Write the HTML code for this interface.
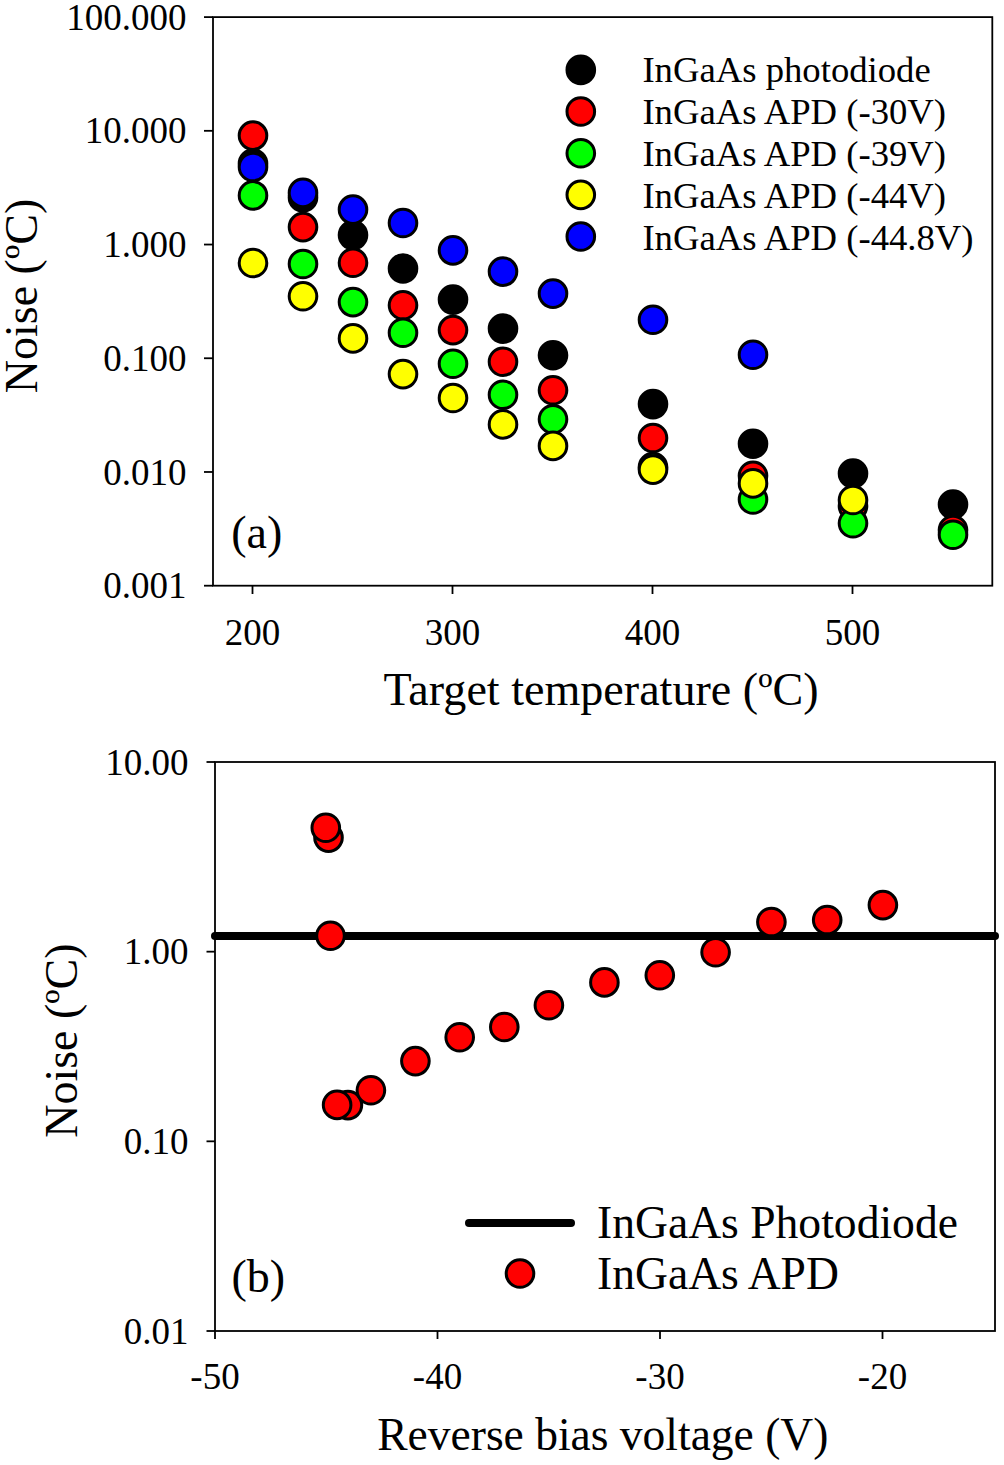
<!DOCTYPE html><html><head><meta charset="utf-8"><style>html,body{margin:0;padding:0;background:#fff;}svg{display:block}</style></head><body>
<svg width="1004" height="1465" viewBox="0 0 1004 1465" font-family="'Liberation Serif', serif">
<rect width="100%" height="100%" fill="#fff"/>
<rect x="213" y="17.1" width="779.3" height="568.6" fill="none" stroke="#000" stroke-width="1.8"/>
<line x1="204" y1="17.1" x2="213" y2="17.1" stroke="#000" stroke-width="1.8"/>
<text x="186.6" y="29.700000000000003" font-size="37" text-anchor="end">100.000</text>
<line x1="204" y1="130.82" x2="213" y2="130.82" stroke="#000" stroke-width="1.8"/>
<text x="186.6" y="143.42" font-size="37" text-anchor="end">10.000</text>
<line x1="204" y1="244.54" x2="213" y2="244.54" stroke="#000" stroke-width="1.8"/>
<text x="186.6" y="257.14" font-size="37" text-anchor="end">1.000</text>
<line x1="204" y1="358.26000000000005" x2="213" y2="358.26000000000005" stroke="#000" stroke-width="1.8"/>
<text x="186.6" y="370.86000000000007" font-size="37" text-anchor="end">0.100</text>
<line x1="204" y1="471.98" x2="213" y2="471.98" stroke="#000" stroke-width="1.8"/>
<text x="186.6" y="484.58000000000004" font-size="37" text-anchor="end">0.010</text>
<line x1="204" y1="585.7" x2="213" y2="585.7" stroke="#000" stroke-width="1.8"/>
<text x="186.6" y="598.3000000000001" font-size="37" text-anchor="end">0.001</text>
<line x1="252.5" y1="585.7" x2="252.5" y2="594" stroke="#000" stroke-width="1.8"/>
<text x="252.5" y="644.6" font-size="37" text-anchor="middle">200</text>
<line x1="452.5" y1="585.7" x2="452.5" y2="594" stroke="#000" stroke-width="1.8"/>
<text x="452.5" y="644.6" font-size="37" text-anchor="middle">300</text>
<line x1="652.5" y1="585.7" x2="652.5" y2="594" stroke="#000" stroke-width="1.8"/>
<text x="652.5" y="644.6" font-size="37" text-anchor="middle">400</text>
<line x1="852.5" y1="585.7" x2="852.5" y2="594" stroke="#000" stroke-width="1.8"/>
<text x="852.5" y="644.6" font-size="37" text-anchor="middle">500</text>
<text x="601" y="705" font-size="46.1" text-anchor="middle">Target temperature (ºC)</text>
<text transform="translate(36.9,296) rotate(-90)" font-size="46" text-anchor="middle">Noise (ºC)</text>
<text x="231.3" y="548" font-size="46">(a)</text>
<circle cx="253" cy="163.5" r="13.8" fill="#000000" stroke="#000" stroke-width="3"/>
<circle cx="303" cy="197.5" r="13.8" fill="#000000" stroke="#000" stroke-width="3"/>
<circle cx="353" cy="235.1" r="13.8" fill="#000000" stroke="#000" stroke-width="3"/>
<circle cx="403" cy="268.5" r="13.8" fill="#000000" stroke="#000" stroke-width="3"/>
<circle cx="453" cy="299.6" r="13.8" fill="#000000" stroke="#000" stroke-width="3"/>
<circle cx="503" cy="328.6" r="13.8" fill="#000000" stroke="#000" stroke-width="3"/>
<circle cx="553" cy="355.2" r="13.8" fill="#000000" stroke="#000" stroke-width="3"/>
<circle cx="653" cy="404.1" r="13.8" fill="#000000" stroke="#000" stroke-width="3"/>
<circle cx="753" cy="443.8" r="13.8" fill="#000000" stroke="#000" stroke-width="3"/>
<circle cx="853" cy="473.5" r="13.8" fill="#000000" stroke="#000" stroke-width="3"/>
<circle cx="953" cy="504.5" r="13.8" fill="#000000" stroke="#000" stroke-width="3"/>
<circle cx="253" cy="135.6" r="13.8" fill="#ff0000" stroke="#000" stroke-width="3"/>
<circle cx="303" cy="227.1" r="13.8" fill="#ff0000" stroke="#000" stroke-width="3"/>
<circle cx="353" cy="262.8" r="13.8" fill="#ff0000" stroke="#000" stroke-width="3"/>
<circle cx="403" cy="305.3" r="13.8" fill="#ff0000" stroke="#000" stroke-width="3"/>
<circle cx="453" cy="330.1" r="13.8" fill="#ff0000" stroke="#000" stroke-width="3"/>
<circle cx="503" cy="361.7" r="13.8" fill="#ff0000" stroke="#000" stroke-width="3"/>
<circle cx="553" cy="390.2" r="13.8" fill="#ff0000" stroke="#000" stroke-width="3"/>
<circle cx="653" cy="438" r="13.8" fill="#ff0000" stroke="#000" stroke-width="3"/>
<circle cx="753" cy="475.8" r="13.8" fill="#ff0000" stroke="#000" stroke-width="3"/>
<circle cx="853" cy="506" r="13.8" fill="#ff0000" stroke="#000" stroke-width="3"/>
<circle cx="953" cy="530" r="13.8" fill="#ff0000" stroke="#000" stroke-width="3"/>
<circle cx="253" cy="195.4" r="13.8" fill="#00ff00" stroke="#000" stroke-width="3"/>
<circle cx="303" cy="264" r="13.8" fill="#00ff00" stroke="#000" stroke-width="3"/>
<circle cx="353" cy="302.1" r="13.8" fill="#00ff00" stroke="#000" stroke-width="3"/>
<circle cx="403" cy="332.7" r="13.8" fill="#00ff00" stroke="#000" stroke-width="3"/>
<circle cx="453" cy="363.8" r="13.8" fill="#00ff00" stroke="#000" stroke-width="3"/>
<circle cx="503" cy="394.8" r="13.8" fill="#00ff00" stroke="#000" stroke-width="3"/>
<circle cx="553" cy="419.2" r="13.8" fill="#00ff00" stroke="#000" stroke-width="3"/>
<circle cx="653" cy="467" r="13.8" fill="#00ff00" stroke="#000" stroke-width="3"/>
<circle cx="753" cy="499.5" r="13.8" fill="#00ff00" stroke="#000" stroke-width="3"/>
<circle cx="853" cy="523.3" r="13.8" fill="#00ff00" stroke="#000" stroke-width="3"/>
<circle cx="953" cy="534.7" r="13.8" fill="#00ff00" stroke="#000" stroke-width="3"/>
<circle cx="253" cy="263" r="13.8" fill="#ffff00" stroke="#000" stroke-width="3"/>
<circle cx="303" cy="296.3" r="13.8" fill="#ffff00" stroke="#000" stroke-width="3"/>
<circle cx="353" cy="338.4" r="13.8" fill="#ffff00" stroke="#000" stroke-width="3"/>
<circle cx="403" cy="374.1" r="13.8" fill="#ffff00" stroke="#000" stroke-width="3"/>
<circle cx="453" cy="398" r="13.8" fill="#ffff00" stroke="#000" stroke-width="3"/>
<circle cx="503" cy="424.4" r="13.8" fill="#ffff00" stroke="#000" stroke-width="3"/>
<circle cx="553" cy="445.9" r="13.8" fill="#ffff00" stroke="#000" stroke-width="3"/>
<circle cx="653" cy="469.6" r="13.8" fill="#ffff00" stroke="#000" stroke-width="3"/>
<circle cx="753" cy="483.4" r="13.8" fill="#ffff00" stroke="#000" stroke-width="3"/>
<circle cx="853" cy="500" r="13.8" fill="#ffff00" stroke="#000" stroke-width="3"/>
<circle cx="253" cy="167" r="13.8" fill="#0000ff" stroke="#000" stroke-width="3"/>
<circle cx="303" cy="192.9" r="13.8" fill="#0000ff" stroke="#000" stroke-width="3"/>
<circle cx="353" cy="209.6" r="13.8" fill="#0000ff" stroke="#000" stroke-width="3"/>
<circle cx="403" cy="223" r="13.8" fill="#0000ff" stroke="#000" stroke-width="3"/>
<circle cx="453" cy="250.4" r="13.8" fill="#0000ff" stroke="#000" stroke-width="3"/>
<circle cx="503" cy="271.6" r="13.8" fill="#0000ff" stroke="#000" stroke-width="3"/>
<circle cx="553" cy="293.6" r="13.8" fill="#0000ff" stroke="#000" stroke-width="3"/>
<circle cx="653" cy="319.8" r="13.8" fill="#0000ff" stroke="#000" stroke-width="3"/>
<circle cx="753" cy="354.7" r="13.8" fill="#0000ff" stroke="#000" stroke-width="3"/>
<circle cx="580.8" cy="69.9" r="13.8" fill="#000000" stroke="#000" stroke-width="3"/>
<text x="642.4" y="82.1" font-size="36.7">InGaAs photodiode</text>
<circle cx="580.8" cy="111.55000000000001" r="13.8" fill="#ff0000" stroke="#000" stroke-width="3"/>
<text x="642.4" y="124.0" font-size="36.7">InGaAs APD (-30V)</text>
<circle cx="580.8" cy="153.2" r="13.8" fill="#00ff00" stroke="#000" stroke-width="3"/>
<text x="642.4" y="165.89999999999998" font-size="36.7">InGaAs APD (-39V)</text>
<circle cx="580.8" cy="194.85" r="13.8" fill="#ffff00" stroke="#000" stroke-width="3"/>
<text x="642.4" y="207.79999999999998" font-size="36.7">InGaAs APD (-44V)</text>
<circle cx="580.8" cy="236.5" r="13.8" fill="#0000ff" stroke="#000" stroke-width="3"/>
<text x="642.4" y="249.7" font-size="36.7">InGaAs APD (-44.8V)</text>
<rect x="215" y="762" width="780" height="569" fill="none" stroke="#000" stroke-width="1.8"/>
<line x1="206.5" y1="762.0" x2="215" y2="762.0" stroke="#000" stroke-width="1.8"/>
<text x="188.6" y="774.5" font-size="37" text-anchor="end">10.00</text>
<line x1="206.5" y1="951.6666666666666" x2="215" y2="951.6666666666666" stroke="#000" stroke-width="1.8"/>
<text x="188.6" y="964.1666666666666" font-size="37" text-anchor="end">1.00</text>
<line x1="206.5" y1="1141.3333333333333" x2="215" y2="1141.3333333333333" stroke="#000" stroke-width="1.8"/>
<text x="188.6" y="1153.8333333333333" font-size="37" text-anchor="end">0.10</text>
<line x1="206.5" y1="1331.0" x2="215" y2="1331.0" stroke="#000" stroke-width="1.8"/>
<text x="188.6" y="1343.5" font-size="37" text-anchor="end">0.01</text>
<line x1="215.0" y1="1331" x2="215.0" y2="1339" stroke="#000" stroke-width="1.8"/>
<text x="215.0" y="1388.5" font-size="37" text-anchor="middle">-50</text>
<line x1="437.5" y1="1331" x2="437.5" y2="1339" stroke="#000" stroke-width="1.8"/>
<text x="437.5" y="1388.5" font-size="37" text-anchor="middle">-40</text>
<line x1="660.0" y1="1331" x2="660.0" y2="1339" stroke="#000" stroke-width="1.8"/>
<text x="660.0" y="1388.5" font-size="37" text-anchor="middle">-30</text>
<line x1="882.5" y1="1331" x2="882.5" y2="1339" stroke="#000" stroke-width="1.8"/>
<text x="882.5" y="1388.5" font-size="37" text-anchor="middle">-20</text>
<text x="602.8" y="1450.3" font-size="45.5" text-anchor="middle">Reverse bias voltage (V)</text>
<text transform="translate(77,1040.6) rotate(-90)" font-size="46" text-anchor="middle">Noise (ºC)</text>
<text x="231.5" y="1291.6" font-size="46">(b)</text>
<line x1="215" y1="936" x2="995" y2="936" stroke="#000" stroke-width="8" stroke-linecap="round"/>
<circle cx="328.5" cy="837.6" r="13.8" fill="#ff0000" stroke="#000" stroke-width="3"/>
<circle cx="325.8" cy="827.8" r="13.8" fill="#ff0000" stroke="#000" stroke-width="3"/>
<circle cx="330.5" cy="935.8" r="13.8" fill="#ff0000" stroke="#000" stroke-width="3"/>
<circle cx="347.9" cy="1105.1" r="13.8" fill="#ff0000" stroke="#000" stroke-width="3"/>
<circle cx="337.1" cy="1104.9" r="13.8" fill="#ff0000" stroke="#000" stroke-width="3"/>
<circle cx="370.9" cy="1090.2" r="13.8" fill="#ff0000" stroke="#000" stroke-width="3"/>
<circle cx="415.4" cy="1061.1" r="13.8" fill="#ff0000" stroke="#000" stroke-width="3"/>
<circle cx="459.7" cy="1037.2" r="13.8" fill="#ff0000" stroke="#000" stroke-width="3"/>
<circle cx="504.3" cy="1027" r="13.8" fill="#ff0000" stroke="#000" stroke-width="3"/>
<circle cx="548.9" cy="1005.3" r="13.8" fill="#ff0000" stroke="#000" stroke-width="3"/>
<circle cx="604.4" cy="982.4" r="13.8" fill="#ff0000" stroke="#000" stroke-width="3"/>
<circle cx="659.8" cy="975.2" r="13.8" fill="#ff0000" stroke="#000" stroke-width="3"/>
<circle cx="715.6" cy="952.2" r="13.8" fill="#ff0000" stroke="#000" stroke-width="3"/>
<circle cx="771.4" cy="922" r="13.8" fill="#ff0000" stroke="#000" stroke-width="3"/>
<circle cx="827.2" cy="920" r="13.8" fill="#ff0000" stroke="#000" stroke-width="3"/>
<circle cx="882.9" cy="905.1" r="13.8" fill="#ff0000" stroke="#000" stroke-width="3"/>
<line x1="469" y1="1222.9" x2="571" y2="1222.9" stroke="#000" stroke-width="8" stroke-linecap="round"/>
<text x="597" y="1237.8" font-size="45.6">InGaAs Photodiode</text>
<circle cx="520" cy="1273.5" r="13.8" fill="#ff0000" stroke="#000" stroke-width="3"/>
<text x="597" y="1288.6" font-size="45.6">InGaAs APD</text>
</svg></body></html>
